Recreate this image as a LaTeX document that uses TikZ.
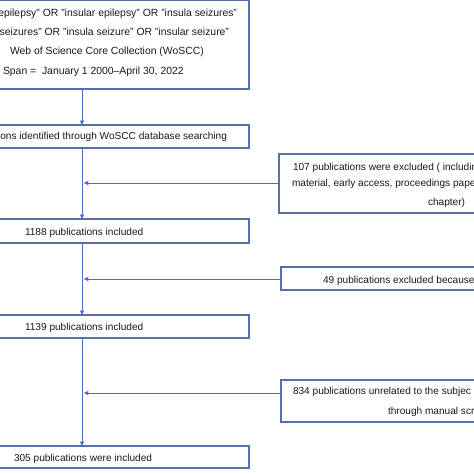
\documentclass[tikz,border=0pt]{standalone}
\usepackage{fontspec}
\setmainfont{Liberation Sans}
\usetikzlibrary{arrows.meta}
\definecolor{boxc}{RGB}{88,112,170}
\definecolor{linec}{RGB}{72,110,188}
\tikzset{
  box/.style={draw=boxc, line width=1.2pt, fill=white, inner sep=0pt, outer sep=0pt, minimum width=400pt},
  txt/.style={inner sep=0pt, outer sep=0pt, font=\fontsize{10.1}{12}\selectfont, text=black!90},
  toptxt/.style={txt, font=\fontsize{10.4}{12}\selectfont},
  conn/.style={draw=linec, line width=0.9pt, -{Triangle[length=4.5pt,width=4pt]}}
}
\begin{document}
\begin{tikzpicture}[x=1pt,y=-1pt]
\useasboundingbox (0,0) rectangle (474,474);
\fill[white] (0,0) rectangle (474,474);
\clip (0,0) rectangle (474,474);
% boxes
\node[box, minimum width=399pt, minimum height=88.2pt] (b1) at (49.5,44.9) {};
\node[box, minimum width=399pt, minimum height=23pt] (b2) at (49.5,136.5) {};
\node[box, minimum height=59pt] (b3) at (479,183.5) {};
\node[box, minimum width=399pt, minimum height=24pt] (b4) at (49.5,231) {};
\node[box, minimum height=23pt] (b5) at (481,278.5) {};
\node[box, minimum width=399pt, minimum height=23pt] (b6) at (49.5,326.5) {};
\node[box, minimum height=42pt] (b7) at (481,401) {};
\node[box, minimum width=399pt, minimum height=22pt] (b8) at (49.5,457) {};
% texts
\node[toptxt, anchor=mid east] (t1a) at (237,14) {epilepsy" OR "insular epilepsy" OR "insula seizures"};
\node[toptxt, anchor=mid east] (t1b) at (229,33) {seizures" OR "insula seizure" OR "insular seizure"};
\node[toptxt, anchor=mid west] (t1c) at (10,52) {Web of Science Core Collection (WoSCC)};
\node[toptxt, anchor=mid west] (t1d) at (3,72) {Span =\ \ January 1 2000–April 30, 2022};
\node[txt, anchor=mid east] (t2) at (227,137) {ons identified through WoSCC database searching};
\node[txt, anchor=mid west] (t3a) at (293,168) {107 publications were excluded ( includin};
\node[txt, anchor=mid west] (t3b) at (292,184) {material, early access, proceedings pape};
\node[txt, anchor=mid west] (t3c) at (428,203) {chapter)};
\node[txt, anchor=mid west] (t4) at (25,233) {1188 publications included};
\node[txt, anchor=mid west] (t5) at (323,281) {49 publications excluded because};
\node[txt, anchor=mid west] (t6) at (25,328) {1139 publications included};
\node[txt, anchor=mid west] (t7a) at (293,392) {834 publications unrelated to the subjec};
\node[txt, anchor=mid west] (t7b) at (388,412) {through manual scr};
\node[txt, anchor=mid west] (t8) at (14,459) {305 publications were included};
% spine and joints
\coordinate (spine) at (82,0);
\coordinate (j1) at (83.8,183);
\coordinate (j2) at (83.8,279);
\coordinate (j3) at (83.8,393);
% vertical connectors
\draw[conn] (b1.south -| spine) -- (b2.north -| spine);
\draw[conn] (b2.south -| spine) -- (b4.north -| spine);
\draw[conn] (b4.south -| spine) -- (b6.north -| spine);
\draw[conn] (b6.south -| spine) -- (b8.north -| spine);
% horizontal connectors
\draw[conn] (b3.west |- j1) -- (j1);
\draw[conn] (b5.west |- j2) -- (j2);
\draw[conn] (b7.west |- j3) -- (j3);
\end{tikzpicture}
\end{document}
